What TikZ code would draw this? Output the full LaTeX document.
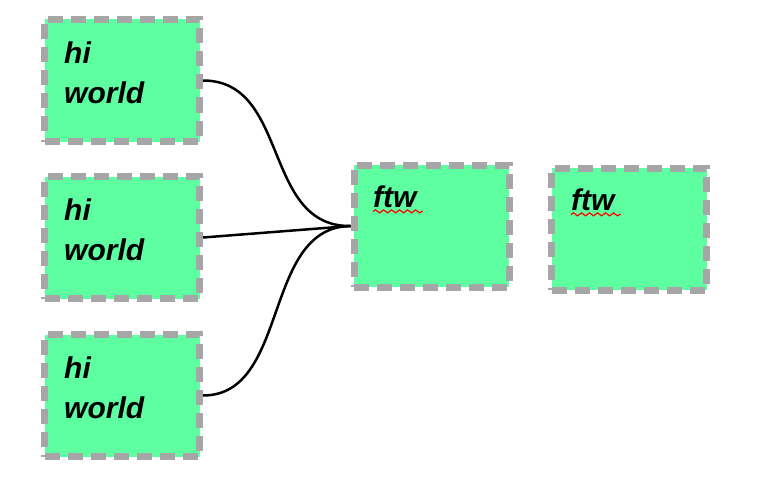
\documentclass[tikz,border=0pt]{standalone}
\usepackage{fontspec}
\setmainfont{Liberation Sans}
\usetikzlibrary{decorations.pathmorphing}
\definecolor{boxfill}{HTML}{5EFFA0}
\definecolor{boxline}{HTML}{A6A6A6}
\begin{document}
\begin{tikzpicture}[x=1pt,y=-1pt,
  box/.style={draw=boxline,fill=boxfill,line width=7pt,dash pattern=on 15pt off 8pt,minimum width=155pt,minimum height=122pt,inner sep=0pt},
  txt/.style={anchor=north west,font=\fontsize{30}{40}\selectfont\bfseries\itshape,align=left,inner sep=0pt},
  con/.style={line width=2.5pt}]
\useasboundingbox (0,0) rectangle (761,487);
\node[box] (a) at (122,80.5) {};
\node[box] (b) at (122,237.5) {};
\node[box] (c) at (122,395.5) {};
\node[box] (m) at (431.5,226) {};
\node[box] (r) at (629,229) {};
\node[txt] (ta) at (64,42) {hi\\world};
\node[txt] (tb) at (64,199) {hi\\world};
\node[txt] (tc) at (64,357) {hi\\world};
\node[txt] (tm) at (373,186) {ftw};
\node[txt] (tr) at (571,189) {ftw};
\draw[red,line width=1.2pt,decorate,decoration={snake,amplitude=1.5pt,segment length=8pt}] (tm.south west) ++(0,3) -- ++(50,0);
\draw[red,line width=1.2pt,decorate,decoration={snake,amplitude=1.5pt,segment length=8pt}] (tr.south west) ++(0,3) -- ++(50,0);
\draw[con] (a.east) .. controls (290,80.5) and (262,227) .. (m.west);
\draw[con] (b.east) -- (m.west);
\draw[con] (c.east) .. controls (290,395.5) and (262,227) .. (m.west);
\end{tikzpicture}
\end{document}
